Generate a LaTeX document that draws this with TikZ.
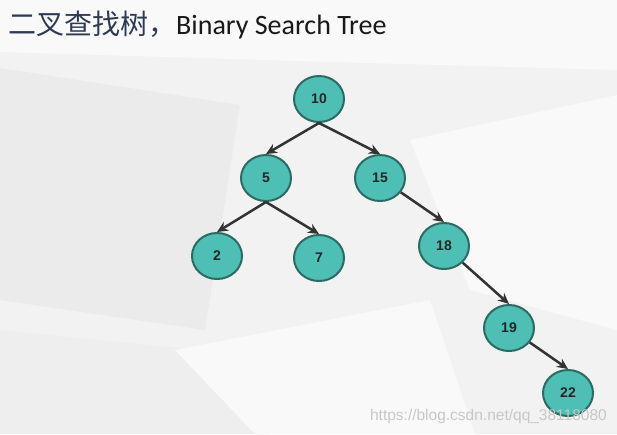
\documentclass[tikz,border=0pt]{standalone}
\usepackage{fontspec}
\setmainfont{Carlito}
\newfontfamily\cjk{Noto Sans CJK SC}
\newfontfamily\arial{Liberation Sans}
\usetikzlibrary{shapes.geometric,arrows.meta}
\definecolor{keyfill}{HTML}{4DBFB4}
\definecolor{keyline}{HTML}{2C6B64}
\definecolor{keytext}{HTML}{262626}
\definecolor{linkgray}{HTML}{333333}
\definecolor{cjkblue}{HTML}{2E3A55}
\definecolor{bgbase}{HTML}{F2F2F2}
\definecolor{bglight}{HTML}{F9F9F9}
\definecolor{bgdark}{HTML}{EBEBEB}
\begin{document}
\begin{tikzpicture}[x=1pt,y=-1pt,>={Stealth[length=11pt,width=10pt]}]
        \tikzstyle{key}=[ellipse,draw=keyline,line width=2pt,fill=keyfill,minimum width=50pt,minimum height=46pt,inner sep=0pt,text=keytext,font=\arial\bfseries\fontsize{14}{14}\selectfont]
        \tikzstyle{branch}=[draw=linkgray,line width=2.5pt,->]
       % background facets
       \fill[bgbase] (0,0) rectangle (617,434);
       \fill[bglight] (0,0) -- (617,0) -- (617,70) -- (330,62) -- (0,52) -- cycle;
       \fill[bgdark] (0,68) -- (240,105) -- (205,330) -- (0,300) -- cycle;
       \fill[bglight] (410,140) -- (617,95) -- (617,330) -- (470,290) -- cycle;
       \fill[bgdark!60!bgbase] (0,330) -- (200,350) -- (270,434) -- (0,434) -- cycle;
       \fill[bglight] (175,350) -- (430,300) -- (475,434) -- (255,434) -- cycle;
       \useasboundingbox (0,0) rectangle (617,434);
       \begin{scope}
         \node [anchor=base west,inner sep=0pt,font=\fontsize{28}{28}\selectfont] (title) at (8,34) {\textcolor{cjkblue}{\cjk 二叉查找树，}\textcolor{black!90}{Binary Search Tree}};
         \node [key] (n10) at (319,99) {10};
         \node [key] (n5) at (266,178) {5};
         \node [key] (n15) at (380,178) {15};
         \node [key] (n2) at (217,256) {2};
         \node [key] (n7) at (319,258) {7};
         \node [key] (n18) at (444,246) {18};
         \node [key] (n19) at (509,328) {19};
         \node [key] (n22) at (568,393) {22};
         \path (n10.south) edge [branch] (n5.north);
         \path (n10.south) edge [branch] (n15.north);
         \path (n5.south) edge [branch] (n2.north);
         \path (n5.south) edge [branch] (n7.north);
         \path (n15) edge [branch] (n18.north);
         \path (n18) edge [branch] (n19.north);
         \path (n19) edge [branch] (n22.north);
         \node [anchor=base east,inner sep=0pt,text=black!22,font=\arial\fontsize{15.5}{15.5}\selectfont] (mark) at (607,420) {https://blog.csdn.net/qq\_38118080};
        \end{scope}
      \end{tikzpicture}
\end{document}
